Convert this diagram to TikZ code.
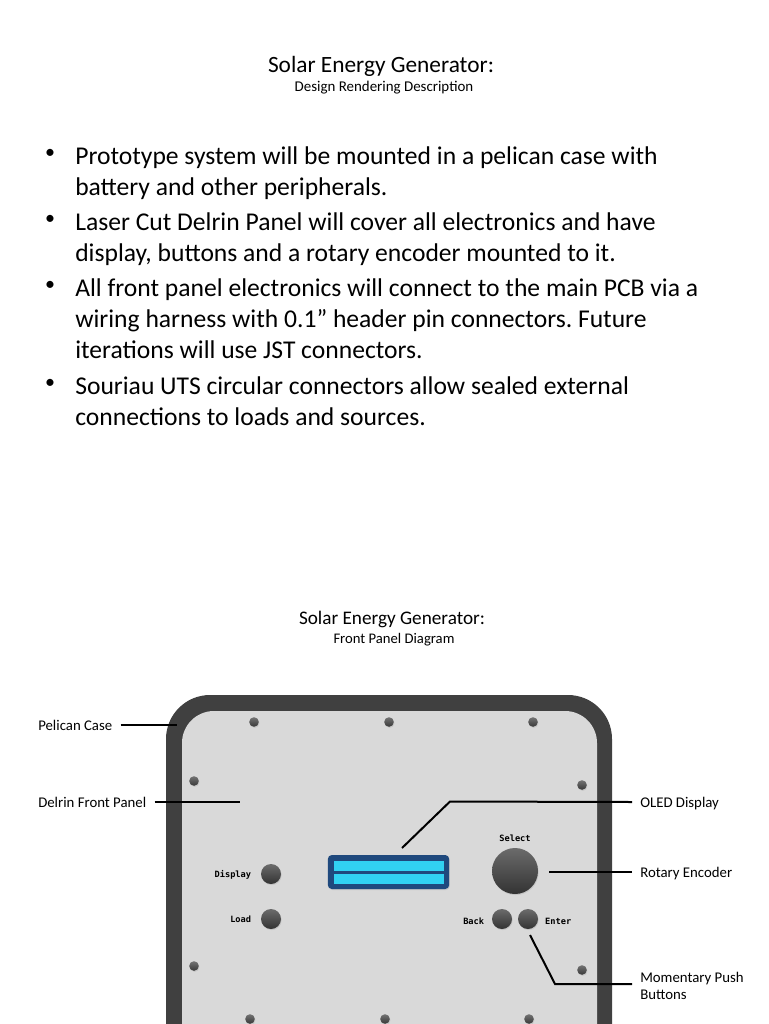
\documentclass[tikz,border=0pt]{standalone}
\usepackage{fontspec}
\setmainfont{Carlito}
\newfontfamily\panelfont{DejaVu Sans Mono}
\usetikzlibrary{positioning,shadows}
\frenchspacing
\tikzset{
    % Define style for titles
    title/.style={
           text centered,
           inner sep=0pt},
    % Define style for the bullet text
    bullet/.style={
           anchor=north west,
           align=left,
           inner sep=0pt,
           font=\fontsize{19.2}{23.6}\selectfont},
    dot/.style={
           inner sep=0pt,
           font=\fontsize{15}{18}\selectfont},
    % Define style for callouts
    callout/.style={
           anchor=west,
           align=left,
           inner sep=0pt,
           font=\fontsize{11.1}{12.6}\selectfont},
    panellabel/.style={
           inner sep=0pt,
           font=\panelfont\bfseries\fontsize{6.5}{7}\selectfont},
    % Define style for screws and buttons
    softshadow/.style={
           drop shadow={shadow xshift=.5pt,shadow yshift=-.8pt,opacity=.22}},
    screw/.style={
           circle,
           inner sep=0pt,
           minimum size=7.2pt,
           shading angle=45,
           top color=black!55,
           bottom color=black!78,
           softshadow},
    knob/.style={
           circle,
           inner sep=0pt,
           minimum size=15pt,
           shading angle=45,
           top color=black!58,
           bottom color=black!80,
           softshadow},
    % Define arrow style
    pil/.style={
           line width=1.5pt,
           black,
           line join=miter}
}
\definecolor{casegrey}{HTML}{404040}
\definecolor{panelgrey}{HTML}{D9D9D9}
\definecolor{displayblue}{HTML}{1F497D}
\definecolor{displaycyan}{HTML}{31D2F2}
\begin{document}
\begin{tikzpicture}[x=.75pt,y=-.75pt]
    \useasboundingbox (0,0) rectangle (768,1024);
    \clip (0,0) rectangle (768,1024);

    % first slide
    \node[title,font=\fontsize{17.5}{20}\selectfont] (title1) at (381,66) {Solar Energy Generator:};
    \node[title,font=\fontsize{11.2}{13}\selectfont] (sub1) at (384,88) {Design Rendering Description};

    % bullets
    \node[bullet] (p1) at (75,146) {Prototype system will be mounted in a pelican case with\\battery and other peripherals.};
    \node[bullet] (p2) at (75,212) {Laser Cut Delrin Panel will cover all electronics and have\\display, buttons and a rotary encoder mounted to it.};
    \node[bullet] (p3) at (75,278) {All front panel electronics will connect to the main PCB via a\\wiring harness with 0.1” header pin connectors. Future\\iterations will use JST connectors.};
    \node[bullet] (p4) at (75,376) {Souriau UTS circular connectors allow sealed external\\connections to loads and sources.};
    \node[dot] (d1) at (50,154) {•};
    \node[dot] (d2) at (50,220) {•};
    \node[dot] (d3) at (50,286) {•};
    \node[dot] (d4) at (50,384) {•};

    % second slide
    \node[title,font=\fontsize{14.4}{17}\selectfont] (title2) at (392,619) {Solar Energy Generator:};
    \node[title,font=\fontsize{11}{13}\selectfont] (sub2) at (394,640) {Front Panel Diagram};

    % case and panel
    \fill[casegrey,rounded corners=33pt] (166,1150) -- (166,695) -- (612,695) -- (612,1150) -- cycle;
    \fill[panelgrey,rounded corners=24pt] (182,1150) -- (182,711) -- (597,711) -- (597,1150) -- cycle;

    % screws
    \foreach \sx/\sy [count=\si] in {254/722,389/722,533/722,194/781,582/785,194/966,582/970,250/1019,385/1019,529/1019}
        \node[screw] (screw\si) at (\sx,\sy) {};

    % display
    \node[fill=displayblue,rounded corners=3pt,inner sep=0pt,minimum width=91pt,minimum height=25.5pt,softshadow] (oled) at (388.5,872) {};
    \node[fill=displaycyan,inner sep=0pt,minimum width=82.5pt,minimum height=7.6pt] (line1) at (389,866) {};
    \node[fill=displaycyan,inner sep=0pt,minimum width=82.5pt,minimum height=7.6pt] (line2) at (389,879) {};

    % buttons
    \node[knob] (display) at (271,874) {};
    \node[knob] (load) at (271,919) {};
    \node[knob,minimum size=34.5pt] (select) at (515,871) {};
    \node[knob] (back) at (502,919) {};
    \node[knob] (enter) at (528,919) {};

    % button labels
    \node[panellabel,left=7pt of display,yshift=-1pt] {Display};
    \node[panellabel,left=7pt of load] {Load};
    \node[panellabel,above=4.5pt of select] {Select};
    \node[panellabel,left=6pt of back,yshift=-1.5pt,xshift=.5pt] {Back};
    \node[panellabel,right=5pt of enter,yshift=-1.5pt] {Enter};

    % callouts
    \node[callout] (case) at (38,725) {Pelican Case};
    \node[callout] (front) at (38,802) {Delrin Front Panel};
    \node[callout] (disp) at (640,804) {OLED Display};
    \node[callout] (rotary) at (640,874) {Rotary Encoder};
    \node[callout] (push) at (640,986) {Momentary Push\\Buttons};

    \coordinate (caseend) at (177,725);
    \coordinate (frontend) at (240,802);
    \coordinate (dispbend) at (450,801.5);
    \coordinate (dispend) at (402,848);
    \coordinate (rotaryend) at (549,872);
    \coordinate (pushbend) at (555,984);
    \coordinate (pushend) at (530,935);

    % edges
    \draw[pil] (case.east) ++(6pt,0) -- (caseend);
    \draw[pil] (front.east) ++(6pt,0) -- (frontend);
    \draw[pil] (disp.west) ++(-6pt,1.5pt) -- (dispbend) -- (dispend);
    \draw[pil] (rotary.west) ++(-6pt,1.5pt) -- (rotaryend);
    \draw[pil] (push.west) ++(-6pt,1.5pt) -- (pushbend) -- (pushend);
\end{tikzpicture}
\end{document}
